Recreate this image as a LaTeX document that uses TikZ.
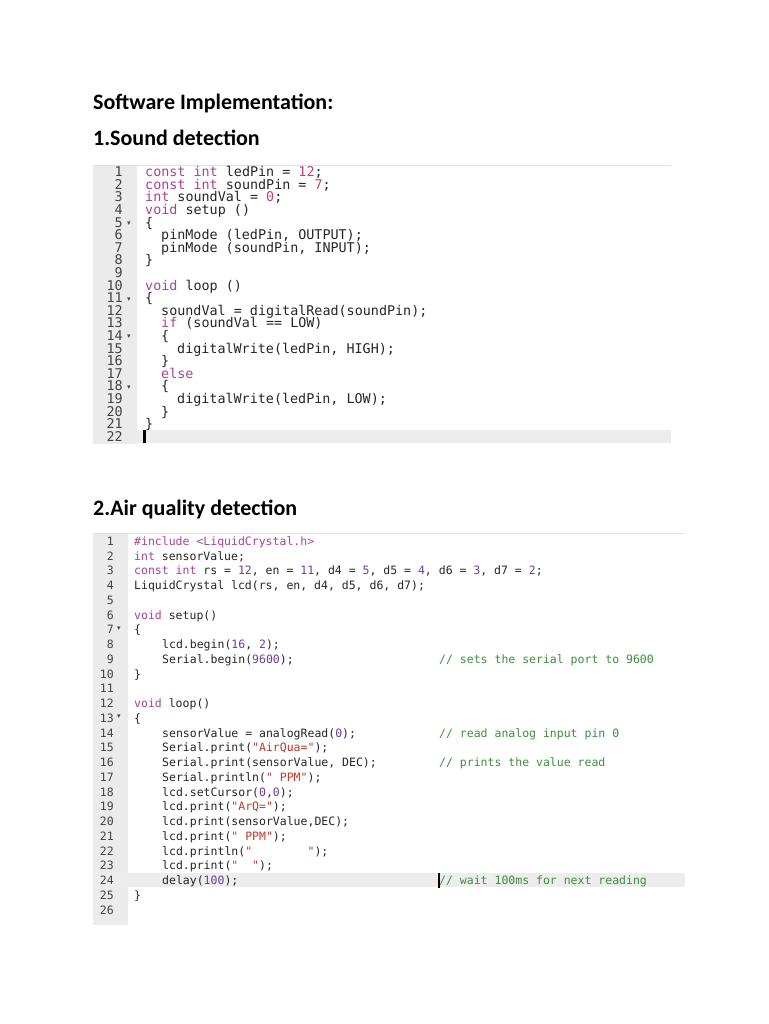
\documentclass[tikz,border=0pt]{standalone}
\usepackage{fontspec}
\setmainfont{Carlito}
\setmonofont{DejaVu Sans Mono}
\newfontfamily\symf{DejaVu Sans}
\definecolor{kw}{HTML}{A9439A}
\definecolor{nm}{HTML}{C0407A}
\definecolor{st}{HTML}{C0392B}
\definecolor{nm2}{HTML}{6A3FA0}
\definecolor{cm}{HTML}{3E8E3E}
\definecolor{gut}{HTML}{EBEBEB}
\definecolor{hl}{HTML}{EDEDED}
\definecolor{lnc}{HTML}{444444}
\newcommand{\K}[1]{\textcolor{kw}{#1}}
\newcommand{\N}[1]{\textcolor{nm}{#1}}
\newcommand{\Nb}[1]{\textcolor{nm2}{#1}}
\newcommand{\Sg}[1]{\textcolor{st}{#1}}
\newcommand{\Cm}[1]{\textcolor{cm}{#1}}
\begin{document}
\begin{tikzpicture}[x=1pt,y=-1pt,
  head/.style={anchor=base west,inner sep=0pt,font=\fontsize{22}{26}\selectfont\bfseries},
  codea/.style={anchor=base west,inner sep=0pt,font=\fontsize{13.4}{14}\ttfamily,text=black!85},
  lna/.style={anchor=base east,inner sep=0pt,font=\fontsize{13.4}{14}\ttfamily,text=lnc},
  codeb/.style={anchor=base west,inner sep=0pt,font=\fontsize{11.5}{13}\ttfamily,text=black!85},
  lnb/.style={anchor=base east,inner sep=0pt,font=\fontsize{11.5}{13}\ttfamily,text=lnc},
  tri/.style={anchor=base west,inner sep=0pt,font=\symf\fontsize{7}{8}\selectfont,text=lnc}]
\useasboundingbox (0,0) rectangle (768,1024);
\fill[white] (0,0) rectangle (768,1024);
\node[head] (h0) at (93,110) {Software Implementation:};
\node[head] (h1) at (93,146) {1.Sound detection};
\node[head] (h2) at (93,515) {2.Air quality detection};
% box 1
\fill[gut] (93,165) rectangle (137,444);
\draw[black!12] (93,165) -- (671,165);
\fill[hl] (137,430) rectangle (671,443);
\fill[black] (143,430) rectangle (146,443);
\foreach \i in {1,...,22}{
  \node[lna] (na\i) at (123,{164+12.6*\i}) {\i};
}
\foreach \i in {5,11,14,18}{\node[tri] (ta\i) at (127,{162.5+12.6*\i}) {▾};}
\node[codea] (a1) at (145,176.6) {\K{const int} ledPin = \N{12};};
\node[codea] (a2) at (145,189.2) {\K{const int} soundPin = \N{7};};
\node[codea] (a3) at (145,201.8) {\K{int} soundVal = \N{0};};
\node[codea] (a4) at (145,214.4) {\K{void} setup ()};
\node[codea] (a5) at (145,227.0) {\{};
\node[codea] (a6) at (161,239.6) {pinMode (ledPin, OUTPUT);};
\node[codea] (a7) at (161,252.2) {pinMode (soundPin, INPUT);};
\node[codea] (a8) at (145,264.8) {\}};
\node[codea] (a10) at (145,290.0) {\K{void} loop ()};
\node[codea] (a11) at (145,302.6) {\{};
\node[codea] (a12) at (161,315.2) {soundVal = digitalRead(soundPin);};
\node[codea] (a13) at (161,327.8) {\K{if} (soundVal == LOW)};
\node[codea] (a14) at (161,340.4) {\{};
\node[codea] (a15) at (177,353.0) {digitalWrite(ledPin, HIGH);};
\node[codea] (a16) at (161,365.6) {\}};
\node[codea] (a17) at (161,378.2) {\K{else}};
\node[codea] (a18) at (161,390.8) {\{};
\node[codea] (a19) at (177,403.4) {digitalWrite(ledPin, LOW);};
\node[codea] (a20) at (161,416.0) {\}};
\node[codea] (a21) at (145,428.6) {\}};
% box 2
\fill[gut] (93,533) rectangle (128,925);
\draw[black!12] (93,533) -- (685,533);
\fill[hl] (93,873) rectangle (685,887);
\foreach \i in {1,...,26}{
  \node[lnb] (nb\i) at (114,{530.5+14.76*\i}) {\i};
}
\foreach \i in {7,13}{\node[tri] (tb\i) at (117,{527+14.76*\i}) {▾};}
\newcommand{\Lb}[4]{\node[codeb] (#1) at (#2,{530.5+14.76*#3}) {#4};}
\Lb{b1}{134}{1}{\K{\#include <LiquidCrystal.h>}}
\Lb{b2}{134}{2}{\K{int} sensorValue;}
\Lb{b3}{134}{3}{\K{const int} rs = \Nb{12}, en = \Nb{11}, d4 = \Nb{5}, d5 = \Nb{4}, d6 = \Nb{3}, d7 = \Nb{2};}
\Lb{b4}{134}{4}{LiquidCrystal lcd(rs, en, d4, d5, d6, d7);}
\Lb{b6}{134}{6}{\K{void} setup()}
\Lb{b7}{134}{7}{\{}
\Lb{b8}{162}{8}{lcd.begin(\Nb{16}, \Nb{2});}
\Lb{b9}{162}{9}{Serial.begin(\Nb{9600});}
\Lb{c9}{439}{9}{\Cm{// sets the serial port to 9600}}
\Lb{b10}{134}{10}{\}}
\Lb{b12}{134}{12}{\K{void} loop()}
\Lb{b13}{134}{13}{\{}
\Lb{b14}{162}{14}{sensorValue = analogRead(\Nb{0});}
\Lb{c14}{439}{14}{\Cm{// read analog input pin 0}}
\Lb{b15}{162}{15}{Serial.print(\Sg{"AirQua="});}
\Lb{b16}{162}{16}{Serial.print(sensorValue, DEC);}
\Lb{c16}{439}{16}{\Cm{// prints the value read}}
\Lb{b17}{162}{17}{Serial.println(\Sg{"~PPM"});}
\Lb{b18}{162}{18}{lcd.setCursor(\Nb{0},\Nb{0});}
\Lb{b19}{162}{19}{lcd.print(\Sg{"ArQ="});}
\Lb{b20}{162}{20}{lcd.print(sensorValue,DEC);}
\Lb{b21}{162}{21}{lcd.print(\Sg{"~PPM"});}
\Lb{b22}{162}{22}{lcd.println(\Sg{"~~~~~~~~"});}
\Lb{b23}{162}{23}{lcd.print(\Sg{"~~"});}
\Lb{b24}{162}{24}{delay(\Nb{100});}
\Lb{c24}{439}{24}{\Cm{// wait 100ms for next reading}}
\fill[black] (438,873) rectangle (440,888);
\Lb{b25}{134}{25}{\}}
\end{tikzpicture}
\end{document}
